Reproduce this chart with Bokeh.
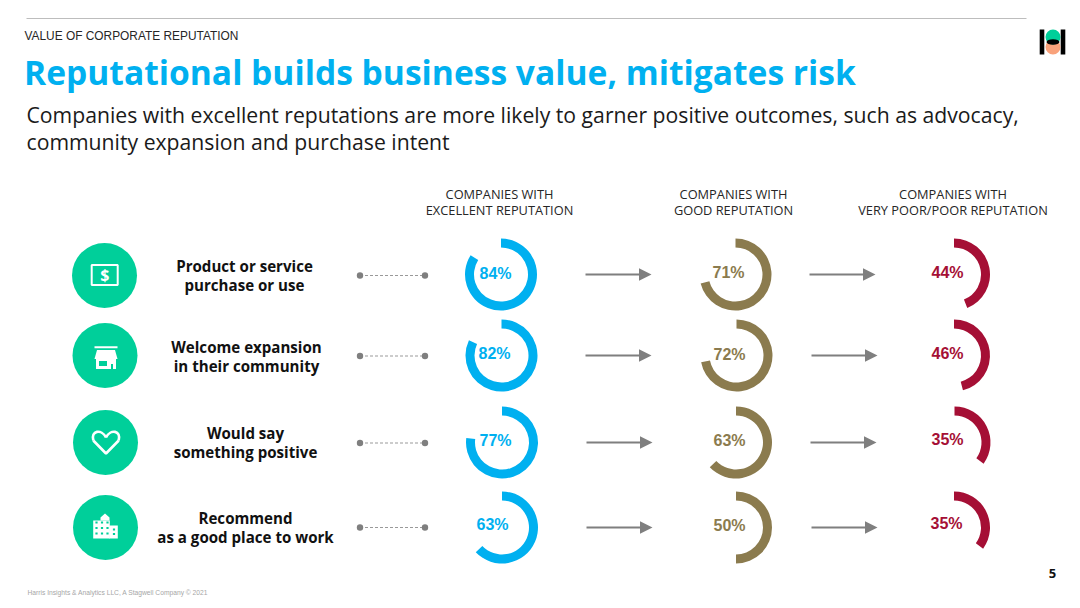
import math
from bokeh.plotting import figure
from bokeh.core.properties import value
from bokeh.models import Range1d, Arrow, NormalHead
from bokeh.embed import file_html
from bokeh.resources import INLINE

# ---------- data ----------
kicker = "VALUE OF CORPORATE REPUTATION"
title = "Reputational builds business value, mitigates risk"
subtitle = ["Companies with excellent reputations are more likely to garner positive outcomes, such as advocacy,",
            "community expansion and purchase intent"]
column_heads = [["COMPANIES WITH", "EXCELLENT REPUTATION"],
                ["COMPANIES WITH", "GOOD REPUTATION"],
                ["COMPANIES WITH", "VERY POOR/POOR REPUTATION"]]
categories = [["Product or service", "purchase or use"],
              ["Welcome expansion", "in their community"],
              ["Would say", "something positive"],
              ["Recommend", "as a good place to work"]]
excellent = [84, 82, 77, 63]
good = [71, 72, 63, 50]
poor = [44, 46, 35, 35]
footer = "Harris Insights & Analytics LLC, A Stagwell Company © 2021"
page_number = "5"

# ---------- layout / style (reference pixels) ----------
BLUE, BROWN, RED = "#00B0F0", "#8B7B4E", "#A50F35"
GREEN, GREY, PEACH = "#00CF9A", "#7F7F7F", "#F9A27B"
SEG = "Open Sans"
ARIAL = "Liberation Sans"
row_y = [274, 355, 442, 527]
ring_x = [[500.5, 735, 953.5], [501, 736, 953.5], [501.5, 735.5, 954], [501.5, 735.5, 953.5]]
pct_xy = [[(495, 273), (728, 272), (947, 272)],
          [(494, 353), (729, 354), (947, 353)],
          [(495, 440), (729, 440), (947, 439)],
          [(492, 524), (729, 525), (946, 523)]]
label_xy = [(244, 265, 284), (246, 346, 365), (245, 432, 451), (245, 517, 536)]
arrow_x = [[(585, 651), (809, 875)], [(585, 651), (811, 877)],
           [(586, 652), (810, 876)], [(586, 652), (811, 877)]]
icon_x = [104, 104.5, 105, 105]
icon_y = [275, 355, 442, 527]
conn_y = [275, 355.5, 442.5, 527]
conn_x = (359.5, 424.5)


def Y(py):
    return 608 - py


p = figure(width=1072, height=600, output_backend="svg", toolbar_location=None,
           x_range=Range1d(0, 1072), y_range=Range1d(8, 608),
           min_border=0, outline_line_color=None, background_fill_color="white",
           border_fill_color="white")
p.axis.visible = False
p.grid.visible = False


def txt(x, y, s, size, color="#000000", font=SEG, style="normal", align="left"):
    p.text(x=[x], y=[Y(y)], text=[s], text_font=value(font), text_font_size=f"{size}px",
           text_color=color, text_font_style=style, text_align=align, text_baseline="middle")


# top rule + header
p.line([26, 1026], [Y(18), Y(18)], line_color="#BDBDBD", line_width=1.2)
txt(24, 35.5, kicker, 11.9, "#262626", ARIAL)
txt(23.5, 71.5, title, 33.6, BLUE, SEG, "bold")
txt(26, 114, subtitle[0], 21.2, "#1A1A1A")
txt(26, 141, subtitle[1], 21.2, "#1A1A1A")

# logo
p.rect([1041.5, 1062.5], [Y(41.5)] * 2, width=4.6, height=25, fill_color="black", line_color=None)
p.circle([1052.5], [Y(46.5)], radius=7.5, fill_color=PEACH, line_color=None)
p.circle([1052.5], [Y(36.5)], radius=7.5, fill_color=GREEN, line_color=None)
p.ellipse([1052.5], [Y(41.5)], width=13, height=5.5, fill_color="black", line_color=None)

# column heads
head_x = [499, 733, 952.5]
for hx, lines in zip(head_x, column_heads):
    txt(hx, 193.5, lines[0], 12.8, "#262626", SEG, "normal", "center")
    txt(hx, 209.5, lines[1], 12.8, "#262626", SEG, "normal", "center")

# icon discs
p.circle(icon_x, [Y(v) for v in icon_y], radius=32.5, fill_color=GREEN, line_color=None)

# icon 1: banknote
p.rect([104.2], [Y(274.5)], width=26, height=20, fill_color=None, line_color="white", line_width=2)
txt(104.2, 274.5, "$", 16, "white", SEG, "bold", "center")

# icon 2: shop
p.rect([105.5], [Y(346.7)], width=23, height=2, fill_color="white", line_color=None)
p.patch([96.5, 114.5, 117, 94], [Y(349.5), Y(349.5), Y(358.5), Y(358.5)], fill_color="white", line_color=None)
p.rect([105.5], [Y(363.5)], width=20, height=10, fill_color="white", line_color=None)
p.rect([102.5], [Y(363)], width=8, height=5, fill_color=GREEN, line_color=None)
p.rect([111.5], [Y(366)], width=2, height=5, fill_color=GREEN, line_color=None)

# icon 3: heart
hc = 105.5
p.line([92.8, hc, 118.2], [Y(440), Y(453), Y(440)], line_color="white", line_width=2.6)
p.bezier(x0=[92.8, 118.2], y0=[Y(440)] * 2, x1=[hc, hc], y1=[Y(437)] * 2,
         cx0=[90, 121], cy0=[Y(430)] * 2, cx1=[101, 110], cy1=[Y(428)] * 2,
         line_color="white", line_width=2.6)

# icon 4: building
p.rect([101], [Y(529)], width=16.6, height=18, fill_color="white", line_color=None)
p.patch([100, 104.5, 109, 109, 100], [Y(517), Y(513), Y(517), Y(520), Y(520)], fill_color="white", line_color=None)
p.rect([113], [Y(531.5)], width=8.6, height=13, fill_color="white", line_color=None)
wx, wy = [], []
for yy in (522, 527.5, 533):
    for xx in (96, 101.5, 107):
        wx.append(xx)
        wy.append(Y(yy))
for yy in (529, 533.5):
    wx.append(113.5)
    wy.append(Y(yy))
p.rect(wx, wy, width=2.2, height=2.2, fill_color=GREEN, line_color=None)

# rows
series = [(excellent, BLUE), (good, BROWN), (poor, RED)]
for i, lines in enumerate(categories):
    lx, l1, l2 = label_xy[i]
    txt(lx, l1, lines[0], 15.1, "#111111", SEG, "bold", "center")
    txt(lx, l2, lines[1], 15.1, "#111111", SEG, "bold", "center")

    # connector
    p.line(list(conn_x), [Y(conn_y[i])] * 2, line_color="#999999", line_width=1, line_dash=[3, 2])
    p.circle(list(conn_x), [Y(conn_y[i])] * 2, radius=3.2, fill_color=GREY, line_color=None)

    # arrows
    for x0, x1 in arrow_x[i]:
        p.add_layout(Arrow(end=NormalHead(size=12.5, fill_color=GREY, line_color=None),
                           x_start=x0, y_start=Y(row_y[i]), x_end=x1, y_end=Y(row_y[i]),
                           line_color=GREY, line_width=1.8))

    # rings
    for j, (vals, col) in enumerate(series):
        v = vals[i]
        p.annular_wedge(x=[ring_x[i][j]], y=[Y(row_y[i])], inner_radius=27, outer_radius=36,
                        start_angle=[math.pi / 2 - 2 * math.pi * v / 100], end_angle=[math.pi / 2],
                        fill_color=col, line_color=None)
        px, py = pct_xy[i][j]
        txt(px, py, f"{v}%", 16, col, ARIAL, "bold", "center")

# footer
txt(27, 592, footer, 6.7, "#A6A6A6", ARIAL)
txt(1052, 572.5, page_number, 13, "#111111", SEG, "bold", "center")

open("out.html", "w").write(file_html(p, INLINE))
